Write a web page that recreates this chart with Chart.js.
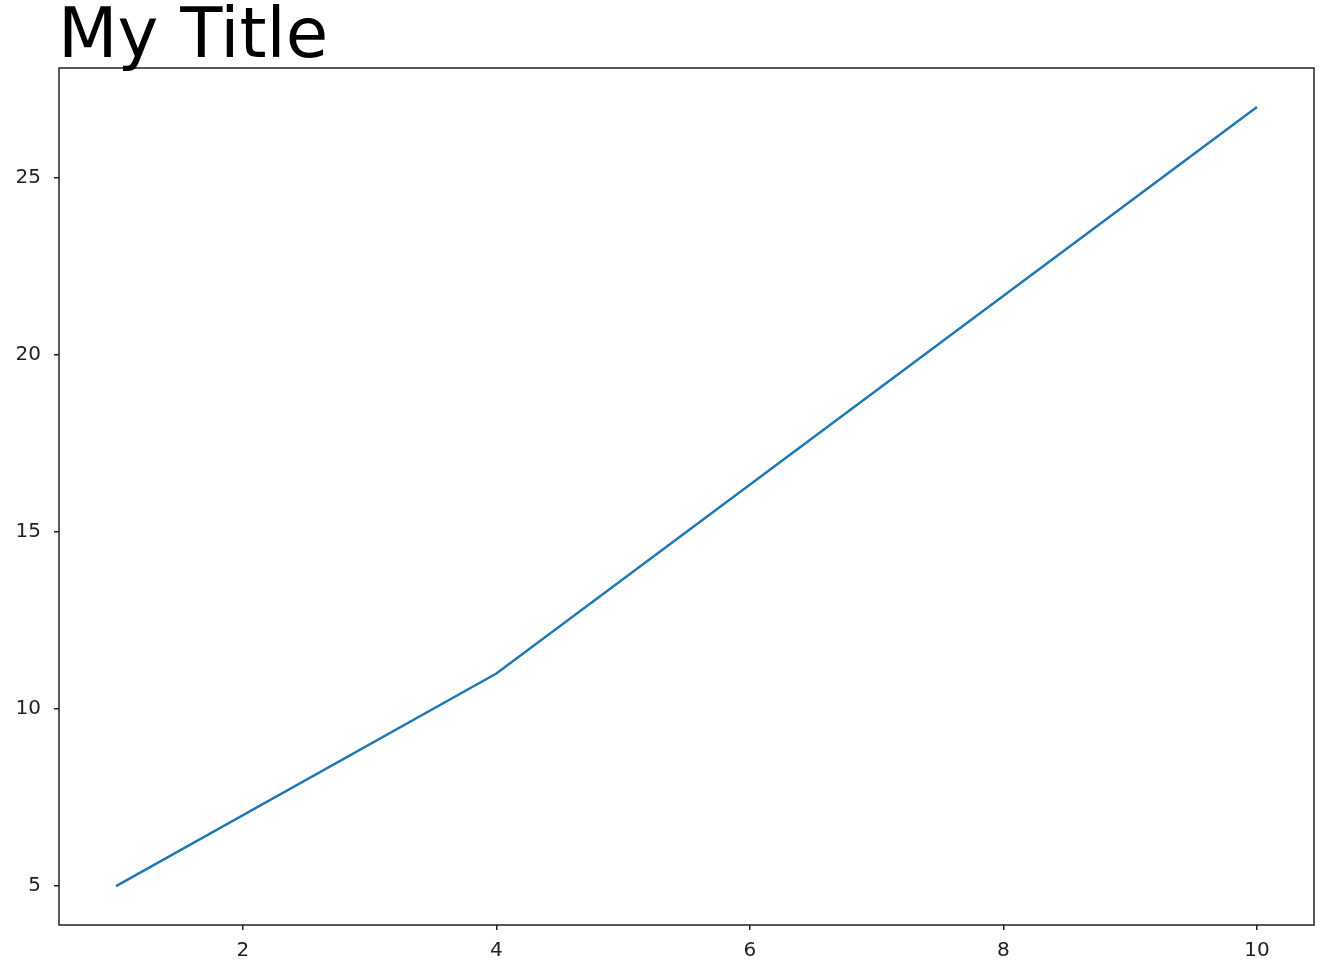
<!DOCTYPE html>
<html lang="en">
<head>
    <meta charset="UTF-8">
    <title>My Title</title>
    <style type="text/css">
        body { margin: 0; background: #fff; }
        .chartBox { width: 1325px; height: 978px; }
    </style>
</head>
<body>

<div class="chartBox">
    <canvas id="myChart"></canvas>
</div>

<script src="https://cdn.jsdelivr.net/npm/chart.js"></script>
<script>
const xValues = [1, 4, 10];
const yValues = [5, 11, 27];
const xTicks = [2, 4, 6, 8, 10];
const yTicks = [5, 10, 15, 20, 25];
const titleText = 'My Title';

const points = xValues.map((x, i) => ({x: x, y: yValues[i]}));

// title sits on the left edge of the plot, plus a full box round the axes
const frame = {
    id: 'frame',
    afterDraw(chart) {
        const {ctx, chartArea} = chart;
        ctx.save();
        ctx.strokeStyle = '#222';
        ctx.lineWidth = 1.5;
        ctx.strokeRect(chartArea.left, chartArea.top, chartArea.right - chartArea.left, chartArea.bottom - chartArea.top);
        ctx.fillStyle = '#000';
        ctx.font = '69px "DejaVu Sans"';
        ctx.textBaseline = 'alphabetic';
        ctx.textAlign = 'left';
        ctx.fillText(titleText, chartArea.left - 1, 57);
        ctx.restore();
    }
};

const tickFont = {family: 'DejaVu Sans', size: 20};

const ctx = document.getElementById('myChart').getContext('2d');
const myChart = new Chart(ctx, {
    type: 'line',
    data: {
        datasets: [{
            data: points,
            borderColor: '#1f77b4',
            borderWidth: 2.5,
            pointRadius: 0,
            tension: 0,
            fill: false
        }]
    },
    options: {
        responsive: true,
        maintainAspectRatio: false,
        animation: false,
        layout: {padding: {top: 68, right: 11, left: 0, bottom: 0}},
        plugins: {legend: {display: false}, tooltip: {enabled: false}},
        scales: {
            x: {
                type: 'linear',
                min: 0.55,
                max: 10.45,
                afterBuildTicks: axis => { axis.ticks = xTicks.map(v => ({value: v})); },
                afterFit: axis => { axis.height = 53; },
                border: {display: false},
                grid: {drawOnChartArea: false, drawTicks: true, tickLength: 5, color: '#222', lineWidth: 1.5},
                ticks: {font: tickFont, color: '#222', padding: 9, maxRotation: 0}
            },
            y: {
                type: 'linear',
                min: 3.9,
                max: 28.1,
                afterBuildTicks: axis => { axis.ticks = yTicks.map(v => ({value: v})); },
                afterFit: axis => { axis.width = 59; },
                border: {display: false},
                grid: {drawOnChartArea: false, drawTicks: true, tickLength: 5, color: '#222', lineWidth: 1.5},
                ticks: {font: tickFont, color: '#222', padding: 13}
            }
        }
    },
    plugins: [frame]
});
</script>

</body>
</html>
